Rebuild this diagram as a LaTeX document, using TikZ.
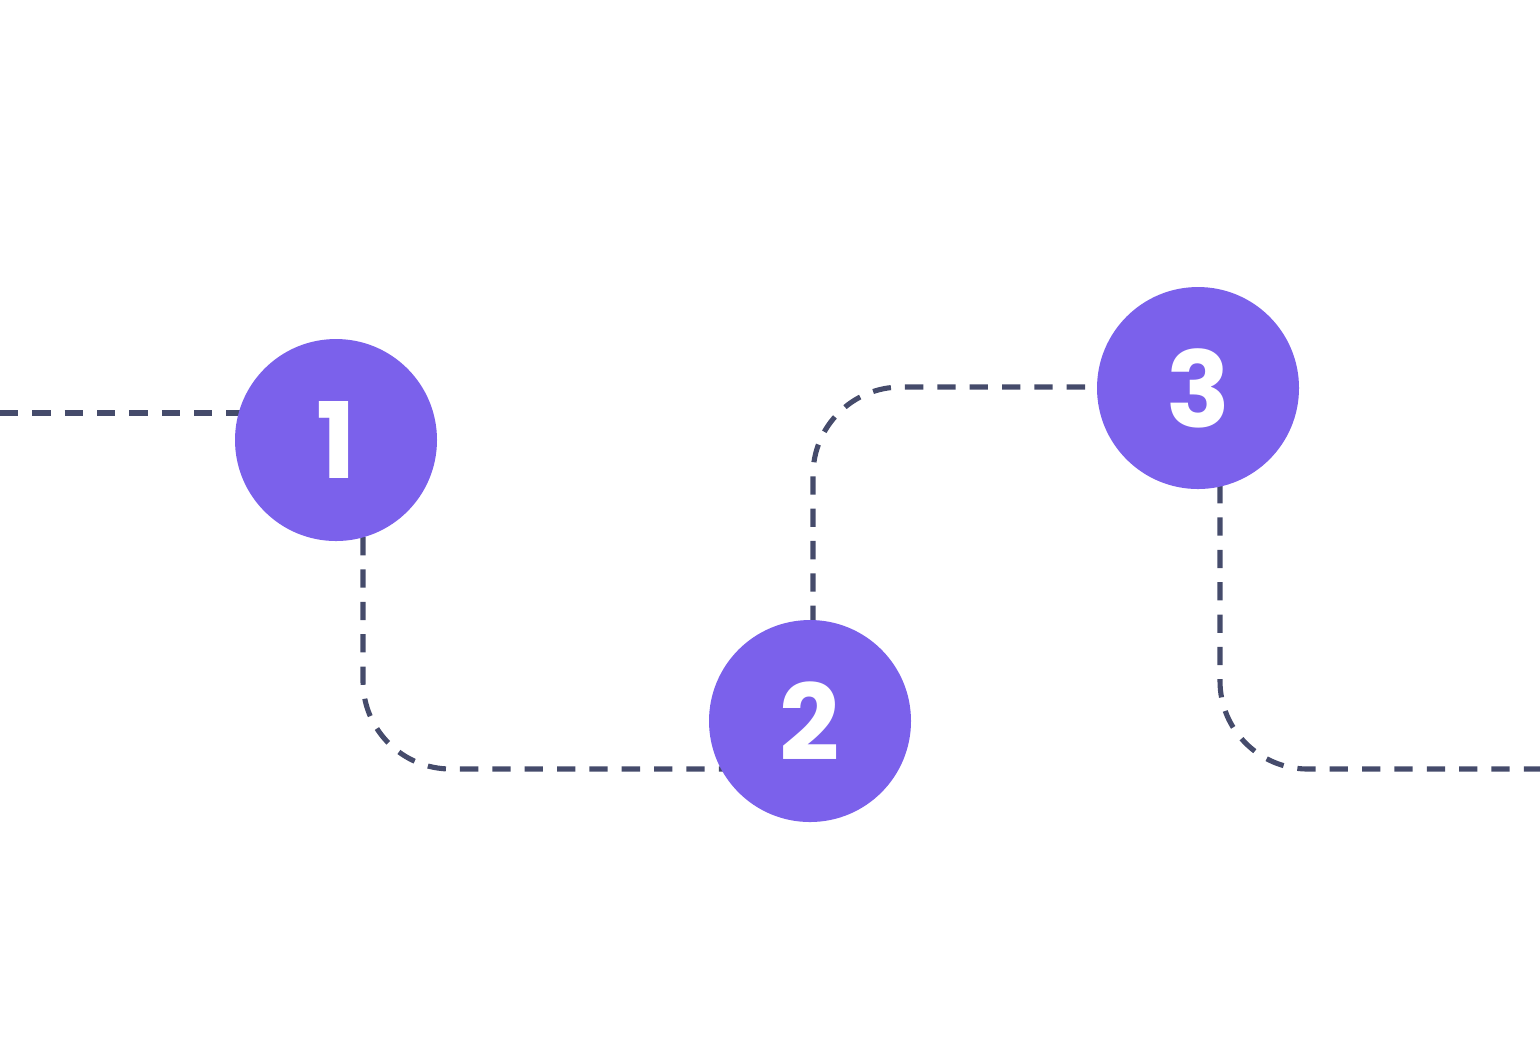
\documentclass[tikz,border=0pt]{standalone}
\usepackage{fontspec}
\setmainfont{Poppins}
\usetikzlibrary{calc}
\pgfdeclarelayer{bg}
\pgfsetlayers{bg,main}
\definecolor{pathc}{HTML}{454B6B}
\definecolor{stepc}{HTML}{7B61EB}
\begin{document}
\begin{tikzpicture}[x=0.01cm,y=-0.01cm,
  stepnode/.style={circle,fill=stepc,minimum size=202*0.01cm,inner sep=0pt,text=white,font=\fontsize{30}{30}\selectfont\bfseries},
  trail/.style={draw=pathc,line width=1.45pt,dash pattern=on 5.2pt off 4pt,rounded corners=25pt}]
\useasboundingbox (0,0) rectangle (1540,1050);
\node[stepnode] (n1) at (336,440) {1};
\node[stepnode] (n2) at (810,721) {2};
\node[stepnode] (n3) at (1198,388) {3};
\coordinate (s) at (0,413);
\coordinate (e) at (1540,769);
\begin{pgfonlayer}{bg}
\draw[trail] (s) -- (n1.center |- s);
\draw[trail] ($(n1.center)+(27,0)$) -- ($(n1.center)+(27,329)$) -- (n2.center |- {(0,769)});
\draw[trail] ($(n2.center)+(3,0)$) -- ($(n2.center)+(3,-334)$) -- (n3.center |- {(0,387)});
\draw[trail] ($(n3.center)+(22,0)$) -- ($(n3.center)+(22,381)$) -- (e);
\end{pgfonlayer}
\end{tikzpicture}
\end{document}
